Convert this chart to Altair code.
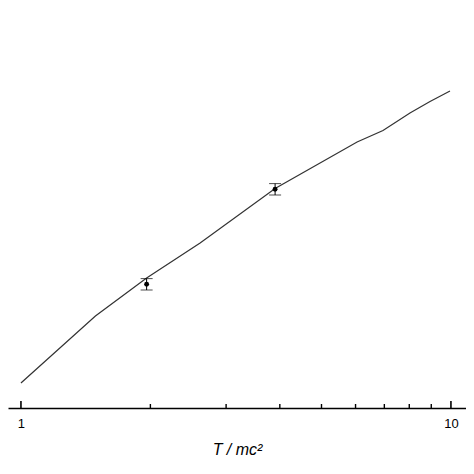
import altair as alt
import pandas as pd

# Model curve (T / mc^2, arbitrary y units)
curve_T = [1.0, 1.49, 1.96, 2.61, 3.90, 6.05, 6.95, 8.03, 8.94, 9.95]
curve_y = [25, 92, 130, 165, 219.5, 266, 277.5, 295, 306.5, 317]

# Measured points with error bars
pt_T = [1.96, 3.90]
pt_y = [123.7, 218.7]
pt_err = [5.7, 5.7]

# Axis ticks
major_ticks = [1, 10]
minor_ticks = [2, 3, 4, 5, 6, 7, 8, 9]

curve = pd.DataFrame({"T": curve_T, "y": curve_y})
pts = pd.DataFrame({"T": pt_T, "y": pt_y,
                    "lo": [a - b for a, b in zip(pt_y, pt_err)],
                    "hi": [a + b for a, b in zip(pt_y, pt_err)]})
majors = pd.DataFrame({"T": major_ticks})
minors = pd.DataFrame({"T": minor_ticks})

xscale = alt.Scale(type="log", domain=[0.933, 10.84], nice=False, zero=False)
yscale = alt.Scale(domain=[0, 400], nice=False, zero=False)

xaxis = alt.Axis(values=major_ticks, format="d", ticks=False, grid=False,
                 domainColor="black", domainWidth=1.6,
                 labelFont="Liberation Sans", labelFontSize=13, labelColor="black",
                 labelPadding=9, labelOverlap=False,
                 title="T / mc²", titleFont="Liberation Sans", titleFontSize=16,
                 titleFontStyle="italic", titleFontWeight="normal",
                 titleColor="black", titlePadding=11)

base_x = alt.X("T:Q", scale=xscale, axis=xaxis)

line = alt.Chart(curve).mark_line(color="#333333", strokeWidth=1.2).encode(
    x=base_x,
    y=alt.Y("y:Q", scale=yscale, axis=None),
)

err_rule = alt.Chart(pts).mark_rule(color="black", strokeWidth=1).encode(
    x=alt.X("T:Q", scale=xscale),
    y=alt.Y("lo:Q", scale=yscale),
    y2="hi:Q",
)
cap_lo = alt.Chart(pts).mark_tick(color="black", orient="horizontal", size=12, thickness=1).encode(
    x=alt.X("T:Q", scale=xscale),
    y=alt.Y("lo:Q", scale=yscale),
)
cap_hi = alt.Chart(pts).mark_tick(color="black", orient="horizontal", size=12, thickness=1).encode(
    x=alt.X("T:Q", scale=xscale),
    y=alt.Y("hi:Q", scale=yscale),
)
dots = alt.Chart(pts).mark_point(filled=True, color="black", size=24, opacity=1).encode(
    x=alt.X("T:Q", scale=xscale),
    y=alt.Y("y:Q", scale=yscale),
)

major_t = alt.Chart(majors).mark_rule(color="black", strokeWidth=1.6).encode(
    x=alt.X("T:Q", scale=xscale),
    y=alt.value(400),
    y2=alt.value(393),
)
minor_t = alt.Chart(minors).mark_rule(color="black", strokeWidth=1.4).encode(
    x=alt.X("T:Q", scale=xscale),
    y=alt.value(400),
    y2=alt.value(396),
)

chart = alt.layer(line, err_rule, cap_lo, cap_hi, dots, major_t, minor_t).properties(
    width=458, height=400, padding={"left": 0, "top": 0, "right": 0, "bottom": 0},
    background="white",
).configure_view(stroke=None)

chart.save("out.html", embed_options={"renderer": "svg", "actions": False})
